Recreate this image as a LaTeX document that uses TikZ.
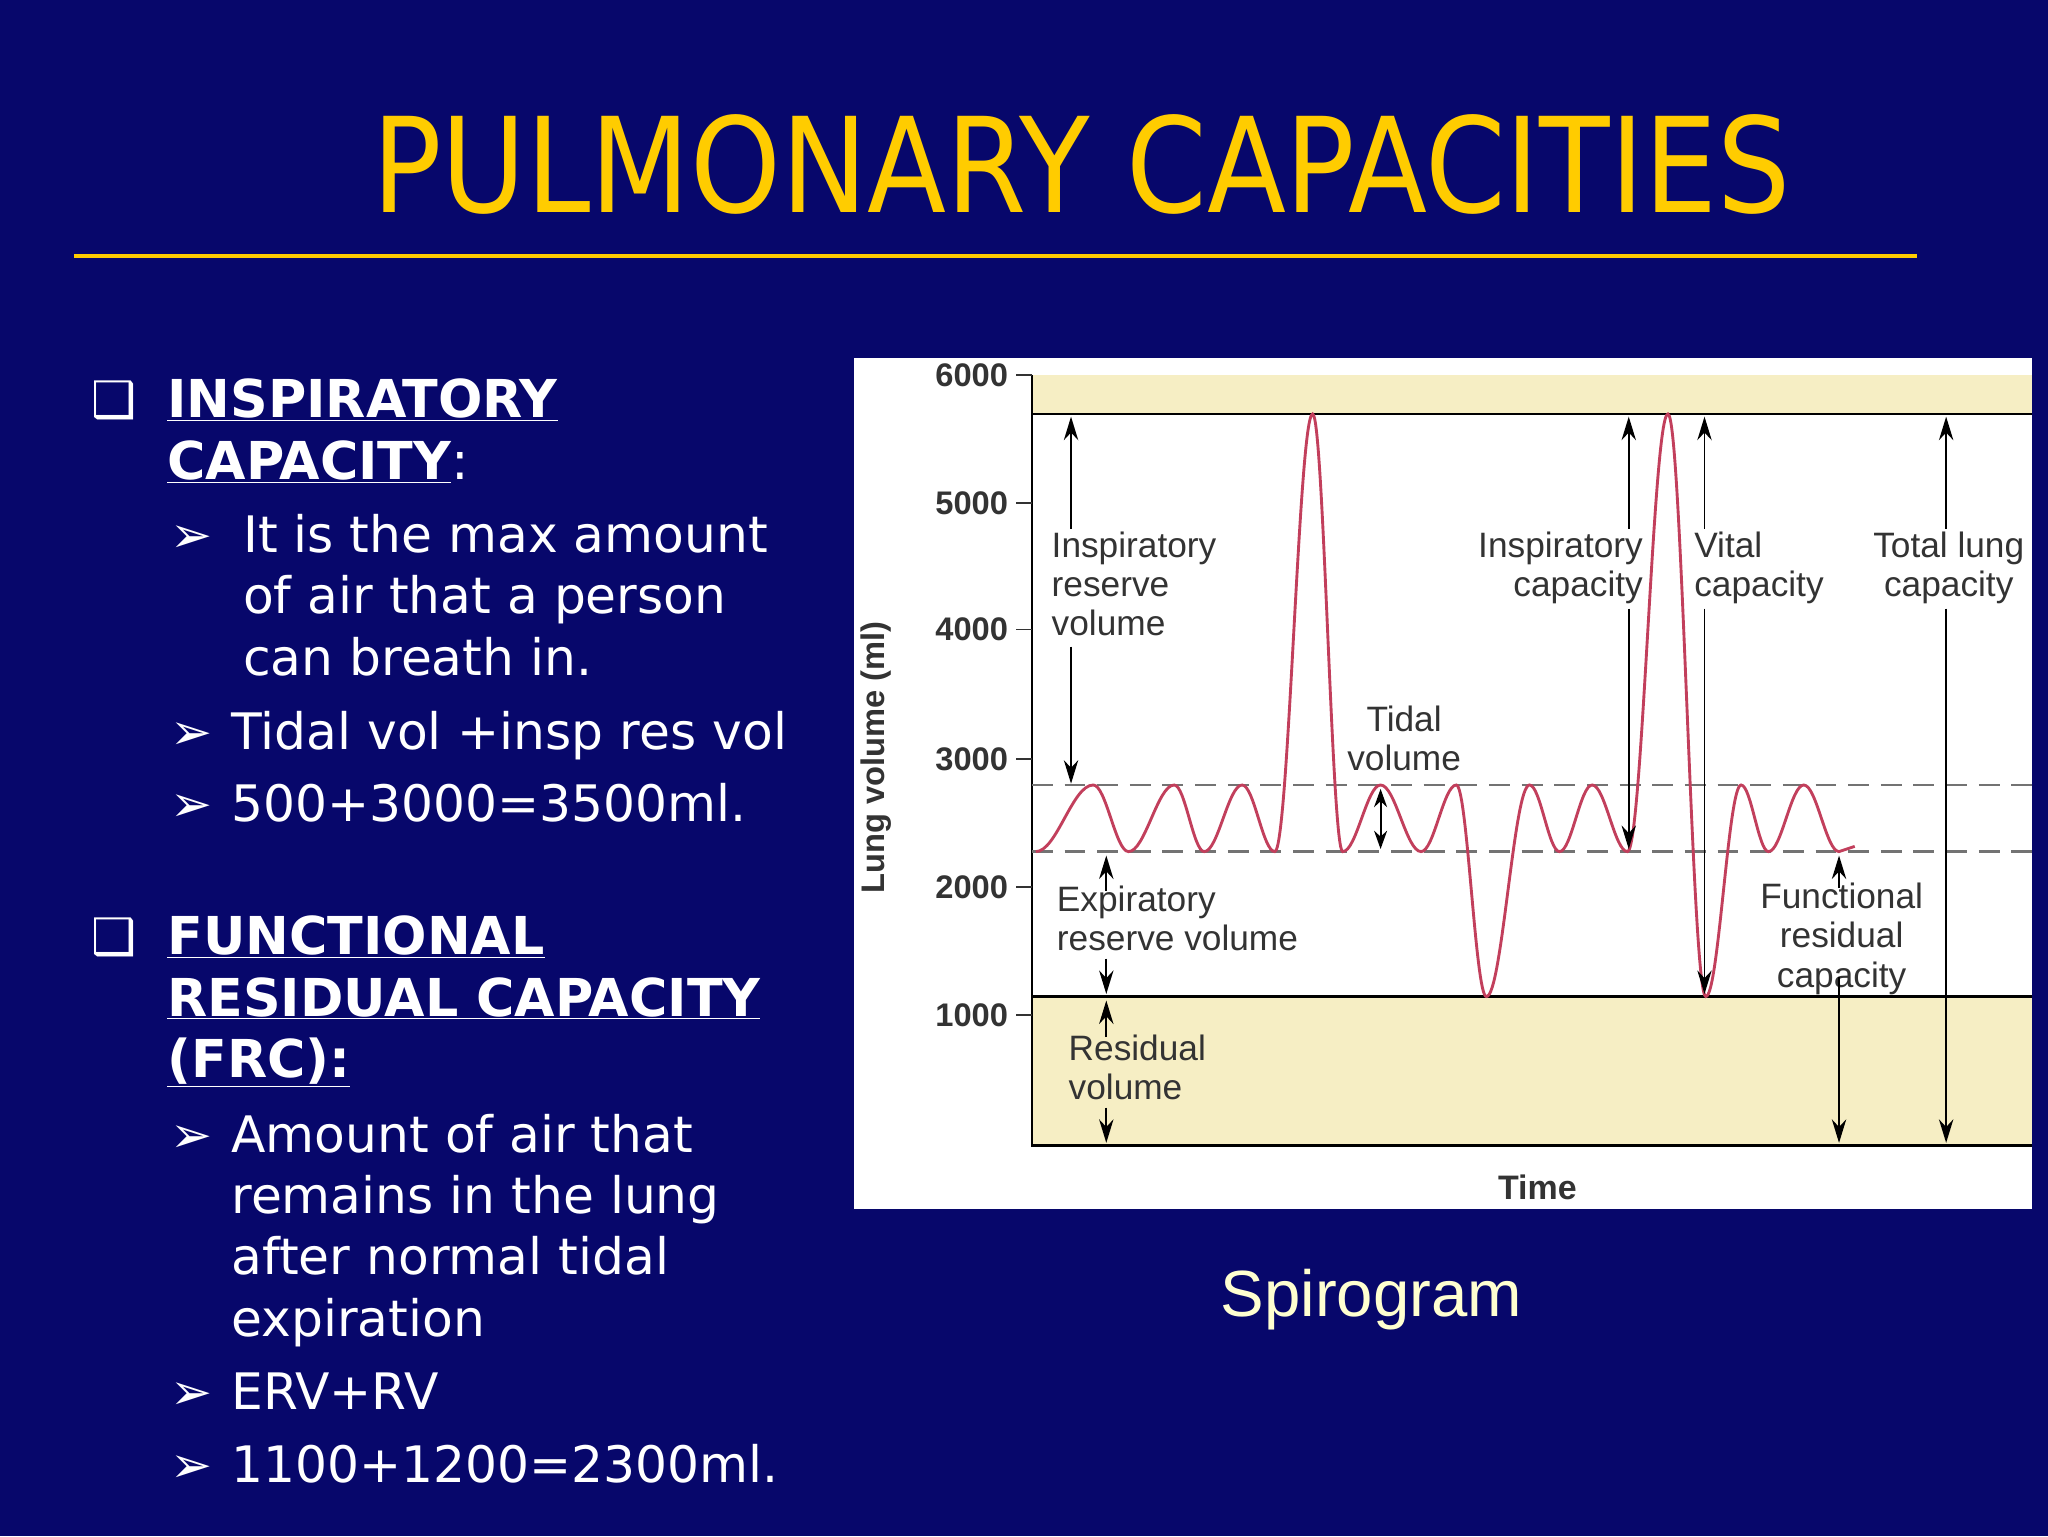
\documentclass[tikz,border=0pt]{standalone}
\usepackage{fontspec}
\setmainfont{DejaVu Sans}
\newfontfamily\chartfont{Liberation Sans}
\usetikzlibrary{arrows.meta}
\definecolor{navy}{HTML}{07076B}
\definecolor{gold}{HTML}{FFCC00}
\definecolor{band}{HTML}{F6EEC4}
\definecolor{wave}{HTML}{C23F5C}
\definecolor{ink}{HTML}{333333}
\definecolor{paleyel}{HTML}{FFFFD0}
\tikzset{
  body/.style={anchor=base west,text=white,font=\fontsize{38.5}{42}\selectfont,inner sep=0},
  hdr/.style={anchor=base west,text=white,font=\bfseries\fontsize{40}{42}\selectfont,inner sep=0},
  lab/.style={text=ink,font=\chartfont\fontsize{27}{30}\selectfont,inner sep=0},
  tick/.style={anchor=east,text=ink,font=\chartfont\bfseries\fontsize{25}{28}\selectfont,inner sep=0},
  arr/.style={black,line width=1.4pt,-{Stealth[length=18pt,width=11pt]}},
  darr/.style={black,line width=1.4pt,{Stealth[length=14pt,width=10pt]}-{Stealth[length=14pt,width=10pt]}},
  curve/.style={wave,line width=2.2pt},
}
\begin{document}
\begin{tikzpicture}[x=1pt,y=-1pt]
\fill[navy] (0,0) rectangle (1568,1176);
\useasboundingbox (0,0) rectangle (1568,1176);
% title
\node[inner sep=0,anchor=base,text=gold] (title) at (828,163) {\resizebox{1085pt}{75pt}{PULMONARY CAPACITIES}};
\draw[gold,line width=3.5pt] (57,196) -- (1468,196);
% left text
\node[body] (b1) at (70,320) {❑};
\node[hdr] (t1) at (128,320) {\underline{INSPIRATORY}};
\node[hdr] (t2) at (128,367) {\underline{CAPACITY}\mdseries:};
\node[body] (a1) at (130,423) {➢};
\node[body] (s1) at (186,423) {It is the max amount};
\node[body] (s2) at (186,470) {of air that a person};
\node[body] (s3) at (186,517) {can breath in.};
\node[body] (a2) at (130,574) {➢};
\node[body] (s4) at (177,574) {Tidal vol +insp res vol};
\node[body] (a3) at (130,629) {➢};
\node[body] (s5) at (177,629) {500+3000=3500ml.};
\node[body] (b2) at (70,731) {❑};
\node[hdr] (f1) at (128,731) {\underline{FUNCTIONAL}};
\node[hdr] (f2) at (128,778) {\underline{RESIDUAL CAPACITY}};
\node[hdr] (f3) at (128,825) {\underline{(FRC):}};
\node[body] (a4) at (130,882) {➢};
\node[body] (r1) at (177,882) {Amount of air that};
\node[body] (r2) at (177,929) {remains in the lung};
\node[body] (r3) at (177,976) {after normal tidal};
\node[body] (r4) at (177,1023) {expiration};
\node[body] (a5) at (130,1079) {➢};
\node[body] (r5) at (177,1079) {ERV+RV};
\node[body] (a6) at (130,1135) {➢};
\node[body] (r6) at (177,1135) {1100+1200=2300ml.};
% chart
\fill[white] (654,274) rectangle (1556,926);
\fill[band] (790,287) rectangle (1556,317);
\fill[band] (790,763) rectangle (1556,877);
\draw[black,line width=1.8pt] (790,317) -- (1556,317);
\draw[black,line width=1.8pt] (790,763) -- (1556,763);
\draw[black,line width=1.8pt] (790,287) -- (790,877) -- (1556,877);
\draw[black!55,line width=1.8pt,dash pattern=on 16pt off 9pt] (790,601) -- (1556,601);
\draw[black!55,line width=1.8pt,dash pattern=on 16pt off 9pt] (790,652) -- (1556,652);
\foreach \v/\yy in {6000/287,5000/385,4000/482,3000/581,2000/679,1000/777}{
  \draw[ink,line width=1.4pt] (778,\yy) -- (790,\yy);
  \node[tick] (tk\v) at (772,\yy) {\v};
}
\node[lab,rotate=90,font=\chartfont\bfseries\fontsize{25}{28}\selectfont] (ylab) at (671,580) {Lung volume (ml)};
\node[lab,font=\chartfont\bfseries\fontsize{26}{28}\selectfont] (xlab) at (1177,909) {Time};
% curve
\draw[curve] (793,652) \foreach \x/\y [remember=\x as \px (initially 793), remember=\y as \py (initially 652)] in
 {837/601,864/652,899/601,922/652,951/601,976/652,1005/317,1028/652,1057/601,1088/652,1115/601,1138/763,1171/601,1194/652,1219/601,1246/652,1277/317,1306/763,1333/601,1354/652,1381/601,1408/652}
 { cos ({(\px+\x)/2},{(\py+\y)/2}) sin (\x,\y) } -- (1420,648);
% labels and arrows
\node[lab,anchor=north west,align=left] (irv) at (805,407) {Inspiratory\\reserve\\volume};
\coordinate (irvT) at (820,319); \coordinate (irvB) at (820,600);
\draw[arr] (820,405) -- (irvT);
\draw[arr] (820,495) -- (irvB);
\node[lab,align=center,anchor=north] (tv) at (1075,540) {Tidal\\volume};
\draw[darr] (1057,604) -- (1057,650);
\node[lab,anchor=north east,align=right] (ic) at (1258,407) {Inspiratory\\capacity};
\draw[arr] (1247,405) -- (1247,319);
\draw[arr] (1247,466) -- (1247,650);
\node[lab,anchor=north west,align=left] (vc) at (1297,407) {Vital\\capacity};
\draw[arr] (1305,405) -- (1305,319);
\draw[arr] (1305,466) -- (1305,761);
\node[lab,anchor=north,align=center] (tlc) at (1492,407) {Total lung\\capacity};
\draw[arr] (1490,405) -- (1490,319);
\draw[arr] (1490,466) -- (1490,875);
\node[lab,anchor=north west,align=left] (erv) at (809,678) {Expiratory\\reserve volume};
\draw[arr] (847,682) -- (847,655);
\draw[arr] (847,734) -- (847,761);
\node[lab,anchor=north west,align=left] (rv) at (818,792) {Residual\\volume};
\draw[arr] (847,794) -- (847,766);
\draw[arr] (847,848) -- (847,875);
\node[lab,anchor=north,align=center] (frc) at (1410,676) {Functional\\residual\\capacity};
\draw[arr] (1408,680) -- (1408,655);
\draw[arr] (1408,748) -- (1408,875);
\node[inner sep=0,text=paleyel,font=\chartfont\fontsize{50}{52}\selectfont] (spiro) at (1050,995) {Spirogram};
\end{tikzpicture}
\end{document}
